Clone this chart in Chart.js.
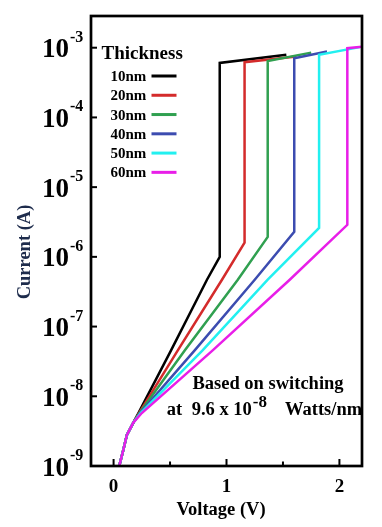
<!DOCTYPE html>
<html><head><meta charset="utf-8">
<script src="https://cdn.jsdelivr.net/npm/chart.js@4/dist/chart.umd.min.js"></script>
<style>html,body{margin:0;padding:0;background:#fff;overflow:hidden}</style>
</head><body>
<canvas id="c" width="382" height="527"></canvas>
<script>
// ---- data ----
const seriesLabels = ['10nm', '20nm', '30nm', '40nm', '50nm', '60nm'];
const seriesColors = ['#000000', '#d42b2b', '#30a050', '#3c4cb0', '#22f0f0', '#e81ee8'];

const v10 = [0.05, 0.086, 0.118, 0.175, 0.22, 0.51, 0.827, 0.94, 0.94, 1.53];
const i10 = [1.0e-9, 1.7e-9, 2.8e-9, 4.2e-9, 5.75e-9, 4.6e-8, 4.7e-7, 1.0e-6, 6.05e-4, 7.9e-4];
const v20 = [0.05, 0.086, 0.118, 0.175, 0.225, 0.57, 0.96, 1.16, 1.16, 1.62];
const i20 = [1.0e-9, 1.7e-9, 2.8e-9, 4.2e-9, 5.75e-9, 4.6e-8, 4.7e-7, 1.6e-6, 6.2e-4, 7.5e-4];
const v30 = [0.05, 0.086, 0.118, 0.175, 0.23, 0.633, 1.10, 1.365, 1.365, 1.75];
const i30 = [1.0e-9, 1.7e-9, 2.8e-9, 4.2e-9, 5.75e-9, 4.6e-8, 4.7e-7, 1.93e-6, 6.45e-4, 8.5e-4];
const v40 = [0.05, 0.086, 0.118, 0.175, 0.235, 0.72, 1.25, 1.60, 1.60, 1.89];
const i40 = [1.0e-9, 1.7e-9, 2.8e-9, 4.2e-9, 5.75e-9, 4.6e-8, 4.7e-7, 2.28e-6, 7.06e-4, 8.8e-4];
const v50 = [0.05, 0.086, 0.118, 0.175, 0.24, 0.79, 1.365, 1.82, 1.82, 2.18];
const i50 = [1.0e-9, 1.7e-9, 2.8e-9, 4.2e-9, 5.75e-9, 4.6e-8, 4.7e-7, 2.6e-6, 7.9e-4, 1.02e-3];
const v60 = [0.05, 0.086, 0.118, 0.175, 0.25, 0.88, 1.56, 2.07, 2.07, 2.2];
const i60 = [1.0e-9, 1.7e-9, 2.8e-9, 4.2e-9, 5.75e-9, 4.6e-8, 4.7e-7, 2.88e-6, 9.85e-4, 1.03e-3];

const voltages = [v10, v20, v30, v40, v50, v60];
const currents = [i10, i20, i30, i40, i50, i60];

const xTicks = [0, 1, 2];
const xMinorTicks = [0.5, 1.5];
const yTickExponents = [-9, -8, -7, -6, -5, -4, -3];

const legendTitle = 'Thickness';
const noteLine1 = 'Based on switching';
const notePrefix = 'at';
const noteValue = '9.6 x 10';
const noteExp = '-8';
const noteUnit = 'Watts/nm';
const xTitle = 'Voltage (V)';
const yTitle = 'Current (A)';

// ---- chart ----
const SERIF = '"Liberation Serif", "Times New Roman", serif';
const datasets = seriesLabels.map((lab, k) => ({
  label: lab,
  data: voltages[k].map((v, j) => ({x: v, y: currents[k][j]})),
  borderColor: seriesColors[k],
  backgroundColor: seriesColors[k],
  borderWidth: 2.5,
  pointRadius: 0,
  tension: 0,
  showLine: true,
  fill: false,
  order: seriesLabels.length - k
}));

const deco = {
  id: 'deco',
  afterDraw(chart) {
    const {ctx, chartArea: a, scales: {x, y}} = chart;
    ctx.save();
    // frame
    ctx.strokeStyle = '#000';
    ctx.lineWidth = 2.7;
    ctx.strokeRect(a.left, a.top, a.right - a.left, a.bottom - a.top);
    // y ticks (inward) + labels
    ctx.lineWidth = 2;
    ctx.fillStyle = '#000';
    yTickExponents.forEach(e => {
      const py = y.getPixelForValue(Math.pow(10, e));
      ctx.beginPath(); ctx.moveTo(a.left, py); ctx.lineTo(a.left + 6, py); ctx.stroke();
      ctx.font = 'bold 27px ' + SERIF;
      ctx.textAlign = 'left'; ctx.textBaseline = 'alphabetic';
      ctx.fillText('10', 42, py + 9.5);
      const w = ctx.measureText('10').width;
      ctx.font = 'bold 16px ' + SERIF;
      ctx.fillText(String(e), 42 + w + 1, py - 6);
    });
    // x ticks (inward) + labels
    xTicks.forEach(v => {
      const px = x.getPixelForValue(v);
      ctx.beginPath(); ctx.moveTo(px, a.bottom); ctx.lineTo(px, a.bottom - 7); ctx.stroke();
      ctx.font = 'bold 19px ' + SERIF;
      ctx.textAlign = 'center';
      ctx.fillText(String(v), px, 492);
    });
    xMinorTicks.forEach(v => {
      const px = x.getPixelForValue(v);
      ctx.beginPath(); ctx.moveTo(px, a.bottom); ctx.lineTo(px, a.bottom - 4.5); ctx.stroke();
    });
    // axis titles
    ctx.font = 'bold 18.5px ' + SERIF;
    ctx.textAlign = 'center';
    ctx.fillStyle = '#000';
    ctx.fillText(xTitle, (a.left + a.right) / 2 + 0.5 - 6, 515);
    ctx.save();
    ctx.translate(30, 252);
    ctx.rotate(-Math.PI / 2);
    ctx.fillStyle = '#1e2c4c';
    ctx.fillText(yTitle, 0, 0);
    ctx.restore();
    // legend
    ctx.fillStyle = '#000';
    ctx.textAlign = 'left';
    ctx.font = 'bold 19px ' + SERIF;
    ctx.fillText(legendTitle, a.left + 10.5, 59);
    seriesLabels.forEach((lab, k) => {
      const ly = 76 + k * 19.27;
      ctx.font = 'bold 15px ' + SERIF;
      ctx.fillStyle = '#000';
      ctx.fillText(lab, a.left + 19.5, ly + 5);
      ctx.strokeStyle = seriesColors[k];
      ctx.lineWidth = 3;
      ctx.beginPath(); ctx.moveTo(a.left + 60.5, ly); ctx.lineTo(a.left + 85.5, ly); ctx.stroke();
    });
    // note
    ctx.fillStyle = '#000';
    ctx.font = 'bold 18.5px ' + SERIF;
    ctx.textAlign = 'center';
    ctx.fillText(noteLine1, 268, 388.5);
    ctx.textAlign = 'left';
    ctx.fillText(notePrefix, 166.7, 415);
    ctx.fillText(noteValue, 191.7, 415);
    const wv = ctx.measureText(noteValue).width;
    ctx.fillText(noteUnit, 285, 415);
    ctx.font = 'bold 17px ' + SERIF;
    ctx.fillText(noteExp, 191.7 + wv + 1, 406.5);
    ctx.restore();
  }
};

new Chart(document.getElementById('c'), {
  type: 'line',
  data: {datasets},
  options: {
    responsive: false,
    animation: false,
    devicePixelRatio: 1,
    layout: {padding: {left: 0, top: 16, right: 20, bottom: 0}},
    plugins: {legend: {display: false}, tooltip: {enabled: false}},
    scales: {
      x: {
        type: 'linear', min: -0.2, max: 2.2,
        grid: {display: false, drawTicks: false},
        border: {display: false},
        ticks: {display: false},
        afterFit(s) { s.height = 61; }
      },
      y: {
        type: 'logarithmic', min: 1e-9, max: 2.85e-3,
        grid: {display: false, drawTicks: false},
        border: {display: false},
        ticks: {display: false},
        afterFit(s) { s.width = 91; }
      }
    }
  },
  plugins: [deco]
});
</script>
</body></html>
